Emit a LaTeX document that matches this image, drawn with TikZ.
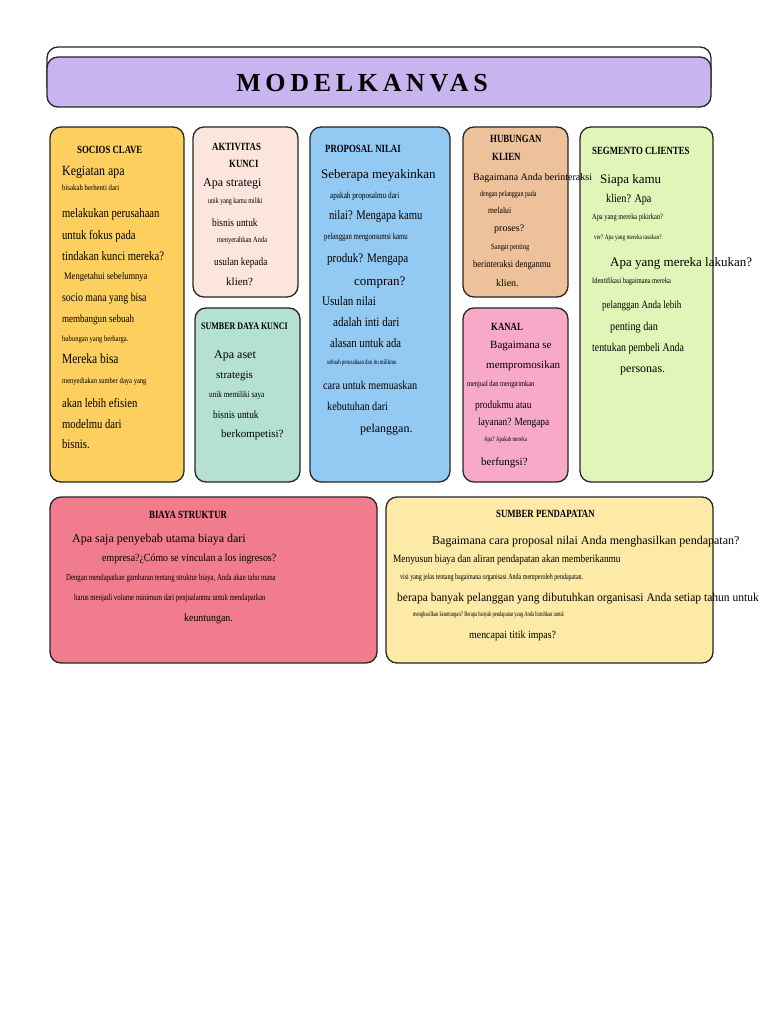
\documentclass[tikz,border=0pt]{standalone}
\usepackage{fontspec}
\setmainfont{Liberation Serif}
\definecolor{cTitle}{HTML}{C8B4EE}
\definecolor{cSoc}{HTML}{FCCF5E}
\definecolor{cAkt}{HTML}{FCE5DD}
\definecolor{cSdk}{HTML}{B4E1D2}
\definecolor{cProp}{HTML}{93CAF4}
\definecolor{cHub}{HTML}{EDC29A}
\definecolor{cKan}{HTML}{F8A9C8}
\definecolor{cSeg}{HTML}{E2F5B9}
\definecolor{cBia}{HTML}{F07C8D}
\definecolor{cPen}{HTML}{FDEAA6}
\newcounter{tn}
\newcommand{\Tx}[5]{\stepcounter{tn}\node[txt,font=\fontsize{#3}{#3}\selectfont,xscale=#4] (t\arabic{tn}) at (#1,#2) {#5};}
\newcommand{\Hd}[4]{\stepcounter{tn}\node[txt,font=\fontsize{#3}{#3}\selectfont\bfseries,xscale=0.8] (t\arabic{tn}) at (#1,#2) {#4};}
\begin{document}
\begin{tikzpicture}[x=1pt,y=-1pt,
  txt/.style={anchor=base west,inner sep=0pt,transform shape},
  card/.style={draw=black!85,line width=1.3pt,rounded corners=11pt}]
\useasboundingbox (0,0) rectangle (768,1024);
\fill[white] (0,0) rectangle (768,1024);
\draw[card,fill=white] (47,47) rectangle (711,97);
\node[card,fill=cTitle,minimum width=664pt,minimum height=50pt,inner sep=0pt] (title) at (379,82) {};
\node[font=\fontsize{26}{26}\selectfont\bfseries\addfontfeatures{LetterSpace=18}] (tt) at (362,83) {MODELKANVAS};
\node[card,fill=cSoc,minimum width=134pt,minimum height=355pt] (socios) at (117,304.5) {};
\node[card,fill=cAkt,minimum width=105pt,minimum height=170pt] (akt) at (245.5,212) {};
\node[card,fill=cSdk,minimum width=105pt,minimum height=174pt] (sdk) at (247.5,395) {};
\node[card,fill=cProp,minimum width=140pt,minimum height=355pt] (prop) at (380,304.5) {};
\node[card,fill=cHub,minimum width=105pt,minimum height=170pt] (hub) at (515.5,212) {};
\node[card,fill=cKan,minimum width=105pt,minimum height=174pt] (kanal) at (515.5,395) {};
\node[card,fill=cSeg,minimum width=133pt,minimum height=355pt] (seg) at (646.5,304.5) {};
\node[card,fill=cBia,minimum width=327pt,minimum height=166pt] (biaya) at (213.5,580) {};
\node[card,fill=cPen,minimum width=327pt,minimum height=166pt] (pend) at (549.5,580) {};
% Socios
\Hd{77}{154}{11}{SOCIOS CLAVE}
\Tx{62}{176}{14}{0.85}{Kegiatan apa}
\Tx{62}{191}{8}{0.85}{bisakah berhenti dari}
\Tx{62}{218}{13}{0.82}{melakukan perusahaan}
\Tx{62}{240}{13}{0.82}{untuk fokus pada}
\Tx{62}{260}{13}{0.82}{tindakan kunci mereka?}
\Tx{64}{279}{10}{0.85}{Mengetahui sebelumnya}
\Tx{62}{301}{12}{0.82}{socio mana yang bisa}
\Tx{62}{322}{11}{0.82}{membangun sebuah}
\Tx{62}{341}{8}{0.82}{hubungan yang berharga.}
\Tx{62}{363}{14}{0.82}{Mereka bisa}
\Tx{62}{383}{8}{0.82}{menyediakan sumber daya yang}
\Tx{62}{407}{13}{0.82}{akan lebih efisien}
\Tx{62}{428}{13}{0.82}{modelmu dari}
\Tx{62}{448}{13}{0.82}{bisnis.}
% Aktivitas
\Hd{212}{151}{11}{AKTIVITAS}
\Hd{229}{168}{11}{KUNCI}
\Tx{203}{187}{12}{1}{Apa strategi}
\Tx{208}{204}{8}{0.75}{unik yang kamu miliki}
\Tx{212}{226}{11}{0.85}{bisnis untuk}
\Tx{217}{243}{8}{0.8}{menyerahkan Anda}
\Tx{214}{265}{11}{0.85}{usulan kepada}
\Tx{226}{285}{11}{1}{klien?}
% Sumber daya kunci
\Hd{201}{329}{10}{SUMBER DAYA KUNCI}
\Tx{214}{358}{12}{1}{Apa aset}
\Tx{216}{378}{11}{1}{strategis}
\Tx{209}{397}{9}{0.8}{unik memiliki saya}
\Tx{213}{418}{11}{0.85}{bisnis untuk}
\Tx{221}{437}{11}{1}{berkompetisi?}
% Proposal
\Hd{325}{153}{11}{PROPOSAL NILAI}
\Tx{321}{179}{13}{1}{Seberapa meyakinkan}
\Tx{330}{199}{9}{0.8}{apakah proposalmu dari}
\Tx{329}{220}{13}{0.82}{nilai? Mengapa kamu}
\Tx{324}{240}{9}{0.75}{pelanggan mengonsumsi kamu}
\Tx{327}{262}{13}{0.85}{produk? Mengapa}
\Tx{354}{285}{13}{1}{compran?}
\Tx{322}{305}{13}{0.85}{Usulan nilai}
\Tx{333}{326}{13}{0.85}{adalah inti dari}
\Tx{330}{347}{13}{0.82}{alasan untuk ada}
\Tx{327}{364}{7}{0.7}{sebuah perusahaan dan itu milikmu}
\Tx{323}{389}{12}{0.85}{cara untuk memuaskan}
\Tx{327}{410}{12}{0.85}{kebutuhan dari}
\Tx{360}{432}{12}{1}{pelanggan.}
% Hubungan
\Hd{490}{143}{11}{HUBUNGAN}
\Hd{492}{161}{11}{KLIEN}
\Tx{473}{181}{10}{1}{Bagaimana Anda berinteraksi}
\Tx{480}{197}{8}{0.75}{dengan pelanggan pada}
\Tx{488}{214}{9}{0.85}{melalui}
\Tx{494}{232}{10}{1}{proses?}
\Tx{491}{249}{8}{0.8}{Sangat penting}
\Tx{473}{267}{10}{0.85}{berinteraksi denganmu}
\Tx{496}{286}{10}{1}{klien.}
% Kanal
\Hd{491}{330}{11}{KANAL}
\Tx{490}{348}{11}{1}{Bagaimana se}
\Tx{486}{368}{11}{1}{mempromosikan}
\Tx{467}{386}{8}{0.8}{menjual dan mengirimkan}
\Tx{475}{408}{11}{0.85}{produkmu atau}
\Tx{478}{425}{11}{0.85}{layanan? Mengapa}
\Tx{484}{441}{7}{0.7}{Apa? Apakah mereka}
\Tx{481}{465}{11}{1}{berfungsi?}
% Segmento
\Hd{592}{155}{11}{SEGMENTO CLIENTES}
\Tx{600}{184}{13}{1}{Siapa kamu}
\Tx{606}{203}{12}{0.85}{klien? Apa}
\Tx{592}{220}{8}{0.8}{Apa yang mereka pikirkan?}
\Tx{594}{240}{7}{0.75}{ver? Apa yang mereka rasakan?}
\Tx{610}{266}{13}{1}{Apa yang mereka lakukan?}
\Tx{592}{283}{8}{0.8}{Identifikasi bagaimana mereka}
\Tx{602}{308}{11}{0.82}{pelanggan Anda lebih}
\Tx{610}{330}{12}{0.85}{penting dan}
\Tx{592}{351}{12}{0.82}{tentukan pembeli Anda}
\Tx{620}{372}{12}{1}{personas.}
% Biaya
\Hd{149}{518}{11}{BIAYA STRUKTUR}
\Tx{72}{542}{12}{1}{Apa saja penyebab utama biaya dari}
\Tx{102}{561}{11}{0.9}{empresa?¿Cómo se vinculan a los ingresos?}
\Tx{66}{580}{9}{0.75}{Dengan mendapatkan gambaran tentang struktur biaya, Anda akan tahu mana}
\Tx{74}{600}{9}{0.75}{harus menjadi volume minimum dari penjualanmu untuk mendapatkan}
\Tx{184}{621}{11}{0.9}{keuntungan.}
% Pendapatan
\Hd{496}{517}{11}{SUMBER PENDAPATAN}
\Tx{432}{544}{12}{1}{Bagaimana cara proposal nilai Anda menghasilkan pendapatan?}
\Tx{393}{562}{11}{0.85}{Menyusun biaya dan aliran pendapatan akan memberikanmu}
\Tx{400}{579}{8}{0.75}{visi yang jelas tentang bagaimana organisasi Anda memperoleh pendapatan.}
\Tx{397}{601}{12}{0.96}{berapa banyak pelanggan yang dibutuhkan organisasi Anda setiap tahun untuk}
\Tx{413}{616}{7}{0.65}{menghasilkan keuntungan? Berapa banyak pendapatan yang Anda butuhkan untuk}
\Tx{469}{638}{11}{0.9}{mencapai titik impas?}
\end{tikzpicture}
\end{document}
